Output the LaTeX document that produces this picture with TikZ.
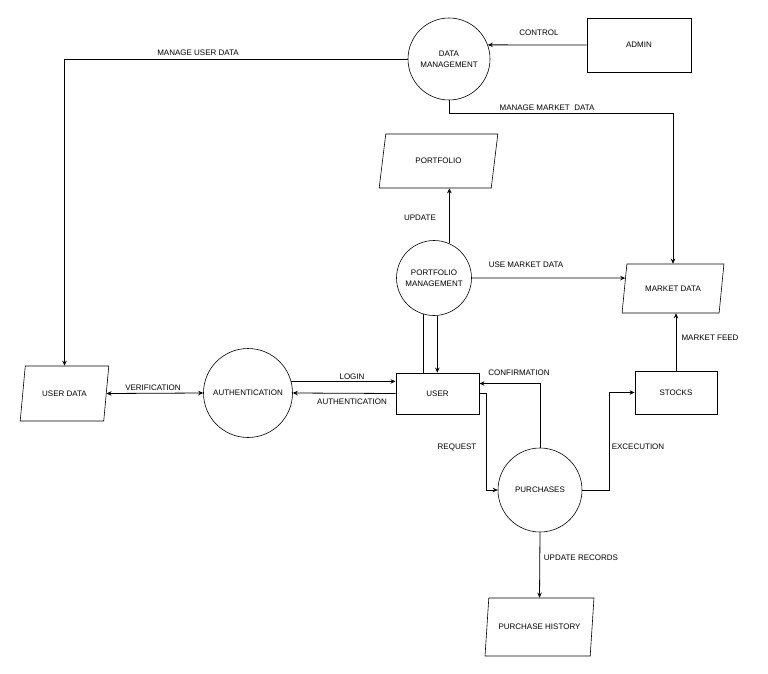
\documentclass[tikz,border=0pt]{standalone}
\usepackage{fontspec}
\setmainfont{Liberation Sans}
\usetikzlibrary{arrows.meta,calc,shapes.geometric}
\newcommand{\dfdfont}{\fontsize{8}{11}\selectfont}

\begin{document}
\begin{tikzpicture}[x=1pt,y=-1pt,line join=miter,
 process/.style={circle,draw,line width=0.6pt,inner sep=1pt,align=center,font=\dfdfont},
 entity/.style={rectangle,draw,line width=0.8pt,font=\dfdfont},
 store/.style={trapezium,trapezium left angle=75,trapezium right angle=105,
  trapezium stretches=true,draw,line width=0.6pt,font=\dfdfont},
 link/.style={line width=0.8pt},
 flow/.style={link,-{Stealth[length=5pt,width=4.5pt]}},
 biflow/.style={link,{Stealth[length=5pt,width=4.5pt]}-{Stealth[length=5pt,width=4.5pt]}},
 lbl/.style={font=\dfdfont,inner sep=0pt}]
\fill[white] (0,0) rectangle (768,674);
\useasboundingbox (0,0) rectangle (768,674);
% processes, entities and stores
\node[process,minimum size=82pt] (dm) at (449,59) {DATA\\MANAGEMENT};
\node[entity,minimum width=104pt,minimum height=54pt] (admin) at (639,45) {ADMIN};
\node[store,minimum width=119pt,minimum height=54pt] (port) at (438.5,161) {PORTFOLIO};
\node[process,minimum size=75pt] (pm) at (434,278) {PORTFOLIO\\MANAGEMENT};
\node[store,minimum width=102pt,minimum height=49pt] (md) at (673,288.5) {MARKET DATA};
\node[store,minimum width=89pt,minimum height=55pt] (ud) at (64.5,393.5) {USER DATA};
\node[process,minimum size=89pt] (auth) at (248,393) {AUTHENTICATION};
\node[entity,minimum width=83pt,minimum height=41pt] (user) at (437.5,393.5) {USER};
\node[entity,minimum width=82pt,minimum height=43pt] (stocks) at (676,392.5) {STOCKS};
\node[process,minimum size=84pt] (pur) at (540,490) {PURCHASES};
\node[store,minimum width=109pt,minimum height=58pt] (ph) at (539.5,627) {PURCHASE HISTORY};
% flows
\draw[flow] (admin.west) -- (dm.20);
\draw[flow] (dm.west) -| (ud.north);
\draw[flow] (dm.south) -- ++(0,13) -| (md.north);
\draw[flow] (pm.66) -- (pm.66 |- port.south);
\coordinate (mdin) at ($(md.bottom left corner)!0.71!(md.top left corner)$);
\draw[flow] (pm.east) -- (mdin);
\draw[link] (pm.253) -- (pm.253 |- user.north);
\draw[flow] (pm.275) -- (pm.275 |- user.north);
\draw[biflow] (ud.east) -- (auth.west);
\draw[flow] (auth.15) -- (auth.15 -| user.west);
\draw[flow] (user.west) -- (auth.east);
\draw[flow] (pur.north) |- ([yshift=10pt]user.east);
\draw[flow] (user.east) -- ++(7,0) |- (pur.west);
\draw[flow] (pur.east) -- ++(27,0) |- (stocks.west);
\draw[flow] (stocks.north) -- (stocks.north |- md.south);
\draw[flow] (pur.south) -- (ph.north);
% flow labels
\node[lbl] (lcontrol) at (539,33) {CONTROL};
\node[lbl] (lmud) at (198,53) {MANAGE USER DATA};
\node[lbl] (lmmd) at (547,108) {MANAGE MARKET\ \ DATA};
\node[lbl] (lupdate) at (420,218) {UPDATE};
\node[lbl] (lumd) at (526,265) {USE MARKET DATA};
\node[lbl] (lverif) at (153,388) {VERIFICATION};
\node[lbl] (llogin) at (352,377) {LOGIN};
\node[lbl] (lauth) at (352,402) {AUTHENTICATION};
\node[lbl] (lconf) at (519,373) {CONFIRMATION};
\node[lbl] (lfeed) at (710,338) {MARKET FEED};
\node[lbl] (lreq) at (457,447) {REQUEST};
\node[lbl] (lexec) at (638,447) {EXCECUTION};
\node[lbl] (lrec) at (581,558) {UPDATE RECORDS};
\end{tikzpicture}
\end{document}
